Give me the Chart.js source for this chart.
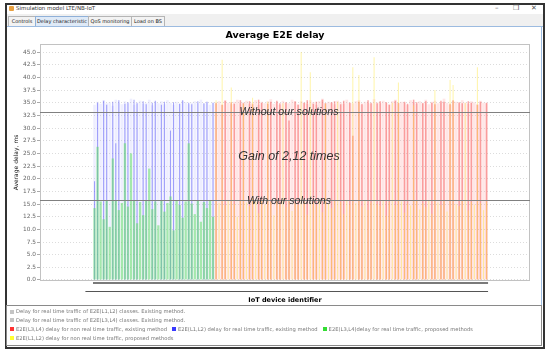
<!DOCTYPE html>
<html>
<head>
<meta charset="utf-8">
<script src="https://cdn.jsdelivr.net/npm/chart.js@4.4.1/dist/chart.umd.min.js"></script>
<style>
  body { margin:0; width:550px; height:350px; background:#fff; position:relative; overflow:hidden; font-family:"DejaVu Sans", sans-serif; }
  .frame { position:absolute; left:5px; top:3px; width:536px; height:342px; border:2px solid #333; }
  .wintitle { position:absolute; left:16px; top:5px; font-size:5.5px; color:#333; }
  .icon { position:absolute; left:9px; top:6px; width:5px; height:5px; background:#e8a040; border-radius:1px; }
  .btns { position:absolute; top:4px; font-size:7px; color:#555; }
  .tabbar { position:absolute; left:7px; top:14px; width:536px; height:12px; background:#f0f0f0; border-bottom:1px solid #9cbbe0; }
  .tab { position:absolute; top:2px; height:9px; border:1px solid #b5b5b5; border-bottom:none; background:#f3f3f3; font-size:5px; line-height:9px; text-align:center; color:#222; }
  .tab.sel { background:#dfeaf7; border-color:#8fb0d8; }
  .content { position:absolute; left:7px; top:27px; width:534px; height:318px; border-right:1px solid #9cbbe0; }
  #wrap { position:absolute; left:0; top:24px; width:550px; height:282px; }
  .legend { position:absolute; left:6px; top:305px; width:534px; height:39px; border:1px solid #8a8a8a; font-size:5.2px; color:#777; }
  .row { position:absolute; left:3px; white-space:nowrap; }
  .sw { display:inline-block; width:4px; height:4px; margin-right:2px; vertical-align:-0.5px; }
  .item { margin-right:5px; }
</style>
</head>
<body>
<div class="frame"></div>
<div class="icon"></div>
<div class="wintitle">Simulation model LTE/NB-IoT</div>
<div class="btns" style="left:495px">–</div>
<div class="btns" style="left:513px">❐</div>
<div class="btns" style="left:531px">✕</div>
<div class="tabbar">
  <div class="tab" style="left:1px;width:26px">Controls</div>
  <div class="tab sel" style="left:28px;width:52px">Delay characteristic</div>
  <div class="tab" style="left:81px;width:42px">QoS monitoring</div>
  <div class="tab" style="left:124px;width:32px">Load on BS</div>
</div>
<div class="content"></div>
<div id="wrap"><canvas id="delayChart" width="550" height="282"></canvas></div>
<div class="legend" id="legend"></div>

<script>
// IoT devices: first group (real time, L1..L4), second group (non real time)
const leftCount = 40;
const rightCount = 90;
const deviceIds = Array.from({ length: leftCount + rightCount }, (_, i) => i + 1);

// left group, ms
const existingRtL12 = [34.6,35.2,34.8,35.5,34.9,35.1,34.4,35.6,35.0,34.7,35.3,34.9,35.8,34.6,35.1,35.4,34.8,35.0,35.6,34.5,
  35.2,34.9,35.3,34.7,35.5,35.0,34.6,35.2,34.8,35.4,35.1,34.7,35.0,35.3,34.9,35.6,34.8,35.2,34.6,35.0];
const blueRtL12 = [19.5,35.0,null,35.4,34.6,null,35.2,27.0,35.5,null,34.8,35.1,null,35.6,34.9,null,35.3,34.7,null,35.0,
  35.4,null,34.6,35.2,null,29.5,35.1,null,34.8,35.5,null,35.0,34.7,null,35.3,null,34.9,35.2,null,35.0];
const greenRtL34 = [14.2,26.3,15.5,12.0,15.8,10.5,24.0,15.6,13.8,15.2,27.0,14.5,25.0,15.7,11.2,15.4,12.8,15.8,22.0,14.0,
  15.5,10.8,15.7,13.5,15.2,16.5,9.8,15.6,14.8,12.3,15.5,27.0,15.1,13.0,15.8,11.5,15.4,14.2,15.6,12.5];

// right group, ms
const existingRtL34 = [34.8,35.3,34.6,35.5,35.0,34.7,35.2,35.6,34.9,35.1,
  35.4,34.8,35.0,35.5,34.6,35.2,34.9,35.3,35.7,34.8,
  35.1,34.6,35.4,35.0,34.9,35.6,35.2,34.7,35.3,35.0,
  34.8,35.5,35.1,34.6,35.3,35.8,34.9,35.2,35.0,34.7,
  35.4,35.1,34.8,35.6,35.0,34.9,35.3,35.5,34.6,35.2,
  35.0,34.8,35.7,35.1,34.9,35.4,35.0,34.7,35.3,35.6,
  34.9,35.2,35.0,34.6,35.5,35.1,34.8,35.3,35.0,35.6,
  34.7,35.2,35.4,34.9,35.1,35.8,35.0,34.6,35.3,35.2,
  34.9,35.5,35.0,34.8,35.3,35.1,34.7,35.4,35.0,34.9];
const redNrtL34 = [35.0,null,34.6,35.4,null,35.1,34.8,null,35.5,34.9,
  null,35.3,34.7,null,35.6,35.0,null,34.8,35.2,null,
  35.4,34.9,null,35.1,31.5,null,35.3,34.6,null,35.0,
  35.5,null,34.8,35.2,null,35.6,34.9,null,35.1,35.3,
  null,34.7,35.4,null,35.0,28.5,null,35.2,34.8,null,
  35.5,35.0,null,34.9,35.3,null,35.1,34.6,null,35.4,
  35.0,null,35.2,34.8,null,35.6,35.1,null,34.9,35.3,
  null,35.0,34.7,null,35.4,35.2,null,34.8,35.5,null,
  35.1,34.9,null,35.3,35.0,null,34.6,35.2,null,35.0];
const yellowNrtL12 = [35.5,15.2,43.5,14.8,15.6,38.0,15.0,12.5,15.7,34.8,
  15.3,14.6,36.0,15.5,13.2,15.8,14.9,35.2,15.4,12.8,
  15.6,15.1,34.9,14.4,15.7,13.6,15.2,14.8,45.0,15.5,
  12.9,41.0,15.3,14.7,15.8,13.4,34.8,15.0,14.2,15.6,
  35.2,15.4,13.0,15.7,14.9,42.0,15.2,40.5,14.5,15.6,
  13.8,15.3,44.0,15.0,14.6,15.8,12.7,15.4,35.0,14.8,
  39.0,15.5,13.3,15.1,14.7,34.5,15.6,13.9,15.2,14.4,
  15.7,13.1,37.5,15.3,14.8,15.6,13.5,39.5,38.5,15.0,
  14.6,15.8,35.0,13.7,15.4,14.9,42.0,15.2,13.8,15.5];

// reference levels and notes
const refLines = [33.2, 15.8];
const noteTexts = ['Without our solutions', 'Gain of 2,12 times', 'With our solutions'];
const noteValues = [33.2, 24.3, 15.6];
const noteDevice = 65;

const seriesNames = [
  'Delay for real time traffic of E2E(L1,L2) classes. Existing method.',
  'Delay for real time traffic of E2E(L3,L4) classes. Existing method.',
  'E2E(L3,L4) delay for non real time traffic, existing method',
  'E2E(L1,L2) delay for real time traffic, existing method',
  'E2E(L3,L4)delay for real time traffic, proposed methods',
  'E2E(L1,L2) delay for non real time traffic, proposed methods'
];

const onLeft = v => v.concat(Array(rightCount).fill(null));
const onRight = v => Array(leftCount).fill(null).concat(v);

function barSet(label, data, color, width, order) {
    return { label, data, backgroundColor: color, borderWidth: 0, grouped: false,
             barPercentage: width, categoryPercentage: 1, order };
}

const datasets = [
    barSet(seriesNames[0], onLeft(existingRtL12), 'rgba(170,170,255,0.2)', 0.85, 3),
    barSet(seriesNames[1], onRight(existingRtL34), 'rgba(255,160,160,0.26)', 0.9, 3),
    barSet(seriesNames[2], onRight(redNrtL34), 'rgba(245,85,85,0.5)', 0.5, 2),
    barSet(seriesNames[3], onLeft(blueRtL12), 'rgba(80,80,245,0.5)', 0.35, 2),
    barSet(seriesNames[4], onLeft(greenRtL34), 'rgba(90,225,90,0.5)', 0.75, 1),
    barSet(seriesNames[5], onRight(yellowNrtL12), 'rgba(255,232,60,0.42)', 0.35, 1)
];
const legendColors = ['#c4c4c4', '#c4c4c4', '#ff3333', '#3a3aff', '#33dd33', '#ffff33'];

// plot box, reference lines, notes and the axis strips under the devices
const overlayPlugin = {
    id: 'overlay',
    beforeDatasetsDraw(chart) {
        const { ctx, chartArea: a } = chart;
        ctx.save();
        ctx.strokeStyle = '#c2c2c2';
        ctx.lineWidth = 1;
        ctx.strokeRect(a.left + 0.5, a.top + 0.5, a.width - 1, a.height - 1);
        ctx.restore();
    },
    afterDatasetsDraw(chart) {
        const { ctx, chartArea: a, scales: { x, y } } = chart;
        ctx.save();
        ctx.strokeStyle = '#808080';
        ctx.lineWidth = 1;
        refLines.forEach(v => {
            const py = Math.round(y.getPixelForValue(v)) + 0.5;
            ctx.beginPath(); ctx.moveTo(a.left, py); ctx.lineTo(a.right, py); ctx.stroke();
        });
        ctx.fillStyle = '#333';
        ctx.textAlign = 'center';
        ctx.textBaseline = 'middle';
        noteTexts.forEach((t, i) => {
            ctx.font = (i === 1 ? 'italic 12.5px' : 'italic 10.6px') + ' "Liberation Sans", sans-serif';
            ctx.fillText(t, x.getPixelForValue(noteDevice), y.getPixelForValue(noteValues[i]));
        });
        // category label strips
        const x0 = x.getPixelForValue(0.5), x1 = x.getPixelForValue(leftCount + rightCount + 0.5);
        ctx.fillStyle = '#7a7a7a';
        ctx.fillRect(x0, a.bottom + 1, x1 - x0, 2);
        ctx.fillStyle = '#555';
        ctx.fillRect(x.getPixelForValue(-2), a.bottom + 10, x1 - x.getPixelForValue(-2), 1);
        ctx.restore();
    }
};

const ctx = document.getElementById('delayChart').getContext('2d');
const delayChart = new Chart(ctx, {
    type: 'bar',
    data: { labels: deviceIds, datasets },
    options: {
        responsive: false,
        animation: false,
        layout: { padding: 0 },
        plugins: {
            legend: { display: false },
            tooltip: { enabled: false },
            title: {
                display: true,
                text: 'Average E2E delay',
                color: '#000',
                font: { family: 'DejaVu Sans', size: 9.5, weight: 'bold' },
                padding: { top: 6, bottom: 2.6 }
            }
        },
        scales: {
            x: {
                type: 'linear',
                min: -16.94,
                max: 144.3,
                offset: false,
                grid: { display: false },
                border: { display: false },
                ticks: { display: false },
                title: {
                    display: true,
                    text: 'IoT device identifier',
                    color: '#000',
                    font: { family: 'DejaVu Sans', size: 6.5, weight: 'bold' },
                    padding: { top: 0, bottom: 2 }
                },
                afterFit(s) { s.height = 25; }
            },
            y: {
                min: -0.2,
                max: 46.6,
                grid: { color: '#dcdcdc', tickLength: 3, tickColor: '#aaa' },
                border: { display: false, dash: [1, 2] },
                ticks: {
                    stepSize: 2.5,
                    includeBounds: false,
                    padding: 1,
                    color: '#666',
                    font: { family: 'DejaVu Sans', size: 5.8 },
                    callback: v => v.toFixed(1)
                },
                title: {
                    display: true,
                    text: 'Average delay, ms',
                    color: '#111',
                    font: { family: 'DejaVu Sans', size: 6 },
                    padding: { top: 13, bottom: 0 }
                },
                afterFit(s) { s.width = 40; }
            },
            // empty right-hand axis that keeps the plot clear of the window edge
            yRight: {
                position: 'right',
                min: -0.2,
                max: 46.6,
                grid: { display: false },
                border: { display: false },
                ticks: { display: false },
                afterFit(s) { s.width = 20; }
            }
        }
    },
    plugins: [overlayPlugin]
});

// legend rows as in the application window
const legendRows = [[0], [1], [2, 3, 4], [5]];
const legendEl = document.getElementById('legend');
legendRows.forEach((row, r) => {
    const div = document.createElement('div');
    div.className = 'row';
    div.style.top = (2 + r * 8.9) + 'px';
    div.innerHTML = row.map(i =>
        '<span class="item"><span class="sw" style="background:' + legendColors[i] + '"></span>' +
        delayChart.data.datasets[i].label + '</span>').join('');
    legendEl.appendChild(div);
});
</script>
</body>
</html>
